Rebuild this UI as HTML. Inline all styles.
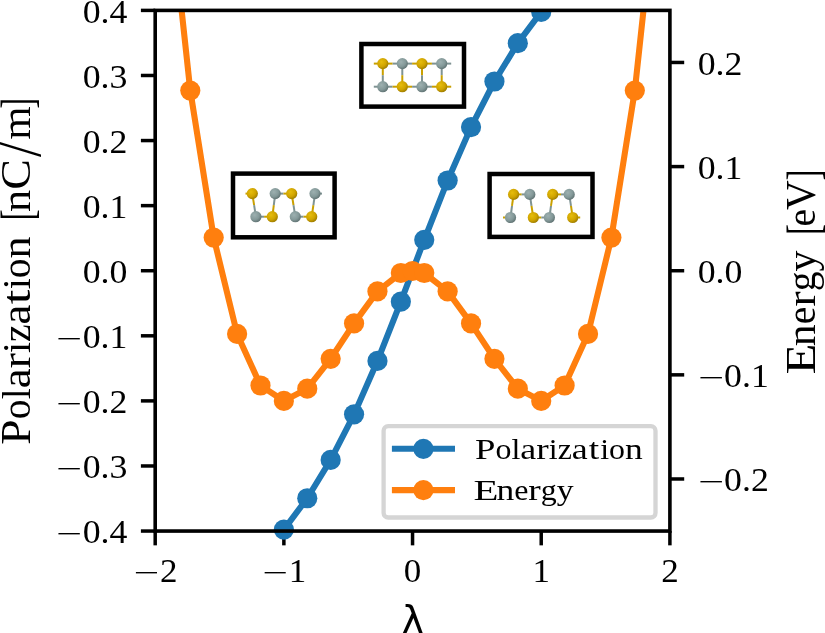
<!DOCTYPE html>
<html lang="en">
<head>
<meta charset="utf-8">
<title>Polarization and energy vs lambda</title>
<style>html,body{margin:0;padding:0;background:#fff;}body{width:825px;height:633px;overflow:hidden;}</style>
</head>
<body>
<svg width="825" height="633" viewBox="0 0 825 633" style="display:block;font-family:'Liberation Serif', 'DejaVu Serif', serif">
<rect x="0" y="0" width="825" height="633" fill="#ffffff"/>
<defs><clipPath id="axclip"><rect x="155.2" y="10.4" width="514.7" height="534.6"/></clipPath>
<radialGradient id="gAu" cx="0.38" cy="0.35" r="0.75"><stop offset="0" stop-color="#e6bd0c"/><stop offset="0.55" stop-color="#d0a400"/><stop offset="1" stop-color="#8f7100"/></radialGradient>
<radialGradient id="gSn" cx="0.38" cy="0.35" r="0.75"><stop offset="0" stop-color="#9db0b0"/><stop offset="0.55" stop-color="#849999"/><stop offset="1" stop-color="#566868"/></radialGradient>
</defs>
<g stroke="#000" stroke-width="3.5" stroke-linecap="butt">
<line x1="140.90" y1="10.40" x2="155.20" y2="10.40"/>
<line x1="140.90" y1="75.48" x2="155.20" y2="75.48"/>
<line x1="140.90" y1="140.56" x2="155.20" y2="140.56"/>
<line x1="140.90" y1="205.64" x2="155.20" y2="205.64"/>
<line x1="140.90" y1="270.72" x2="155.20" y2="270.72"/>
<line x1="140.90" y1="335.81" x2="155.20" y2="335.81"/>
<line x1="140.90" y1="400.89" x2="155.20" y2="400.89"/>
<line x1="140.90" y1="465.97" x2="155.20" y2="465.97"/>
<line x1="140.90" y1="531.05" x2="155.20" y2="531.05"/>
<line x1="669.90" y1="62.46" x2="684.20" y2="62.46"/>
<line x1="669.90" y1="166.59" x2="684.20" y2="166.59"/>
<line x1="669.90" y1="270.72" x2="684.20" y2="270.72"/>
<line x1="669.90" y1="374.85" x2="684.20" y2="374.85"/>
<line x1="669.90" y1="478.98" x2="684.20" y2="478.98"/>
<line x1="155.20" y1="531.05" x2="155.20" y2="545.35"/>
<line x1="283.87" y1="531.05" x2="283.87" y2="545.35"/>
<line x1="412.55" y1="531.05" x2="412.55" y2="545.35"/>
<line x1="541.22" y1="531.05" x2="541.22" y2="545.35"/>
<line x1="669.90" y1="531.05" x2="669.90" y2="545.35"/>
</g>
<g clip-path="url(#axclip)">
<polyline points="283.87,529.55 307.27,498.25 330.67,459.95 354.06,414.35 377.46,360.95 400.85,301.65 424.25,239.80 447.64,180.50 471.04,127.10 494.43,81.50 517.83,43.20 541.22,11.90" fill="none" stroke="#1f77b4" stroke-width="6.1" stroke-linejoin="round" stroke-linecap="butt"/>
<circle cx="283.87" cy="529.55" r="10.1" fill="#1f77b4"/>
<circle cx="307.27" cy="498.25" r="10.1" fill="#1f77b4"/>
<circle cx="330.67" cy="459.95" r="10.1" fill="#1f77b4"/>
<circle cx="354.06" cy="414.35" r="10.1" fill="#1f77b4"/>
<circle cx="377.46" cy="360.95" r="10.1" fill="#1f77b4"/>
<circle cx="400.85" cy="301.65" r="10.1" fill="#1f77b4"/>
<circle cx="424.25" cy="239.80" r="10.1" fill="#1f77b4"/>
<circle cx="447.64" cy="180.50" r="10.1" fill="#1f77b4"/>
<circle cx="471.04" cy="127.10" r="10.1" fill="#1f77b4"/>
<circle cx="494.43" cy="81.50" r="10.1" fill="#1f77b4"/>
<circle cx="517.83" cy="43.20" r="10.1" fill="#1f77b4"/>
<circle cx="541.22" cy="11.90" r="10.1" fill="#1f77b4"/>
</g>
<g clip-path="url(#axclip)">
<polyline points="166.90,-126.00 190.29,90.60 213.69,237.60 237.08,333.90 260.48,385.50 283.87,400.90 307.27,388.70 330.67,358.80 354.06,323.40 377.46,291.40 400.85,273.00 412.55,271.00 424.25,273.00 447.64,291.40 471.04,323.40 494.43,358.80 517.83,388.70 541.22,400.90 564.62,385.50 588.02,333.90 611.41,237.60 634.81,90.60 658.20,-126.00" fill="none" stroke="#ff7f0e" stroke-width="6.1" stroke-linejoin="round" stroke-linecap="butt"/>
<circle cx="190.29" cy="90.60" r="10.1" fill="#ff7f0e"/>
<circle cx="213.69" cy="237.60" r="10.1" fill="#ff7f0e"/>
<circle cx="237.08" cy="333.90" r="10.1" fill="#ff7f0e"/>
<circle cx="260.48" cy="385.50" r="10.1" fill="#ff7f0e"/>
<circle cx="283.87" cy="400.90" r="10.1" fill="#ff7f0e"/>
<circle cx="307.27" cy="388.70" r="10.1" fill="#ff7f0e"/>
<circle cx="330.67" cy="358.80" r="10.1" fill="#ff7f0e"/>
<circle cx="354.06" cy="323.40" r="10.1" fill="#ff7f0e"/>
<circle cx="377.46" cy="291.40" r="10.1" fill="#ff7f0e"/>
<circle cx="400.85" cy="273.00" r="10.1" fill="#ff7f0e"/>
<circle cx="412.55" cy="271.00" r="10.1" fill="#ff7f0e"/>
<circle cx="424.25" cy="273.00" r="10.1" fill="#ff7f0e"/>
<circle cx="447.64" cy="291.40" r="10.1" fill="#ff7f0e"/>
<circle cx="471.04" cy="323.40" r="10.1" fill="#ff7f0e"/>
<circle cx="494.43" cy="358.80" r="10.1" fill="#ff7f0e"/>
<circle cx="517.83" cy="388.70" r="10.1" fill="#ff7f0e"/>
<circle cx="541.22" cy="400.90" r="10.1" fill="#ff7f0e"/>
<circle cx="564.62" cy="385.50" r="10.1" fill="#ff7f0e"/>
<circle cx="588.02" cy="333.90" r="10.1" fill="#ff7f0e"/>
<circle cx="611.41" cy="237.60" r="10.1" fill="#ff7f0e"/>
<circle cx="634.81" cy="90.60" r="10.1" fill="#ff7f0e"/>
</g>
<rect x="155.2" y="10.4" width="514.70" height="520.65" fill="none" stroke="#000" stroke-width="3.6" stroke-linejoin="miter"/>
<rect x="361.4" y="44.0" width="102.60" height="62.60" fill="#fff" stroke="#000" stroke-width="4.5"/>
<line x1="382.8" y1="63.6" x2="373.8" y2="63.6" stroke="#c9a000" stroke-width="2"/>
<line x1="382.8" y1="86.7" x2="373.8" y2="86.7" stroke="#7f9393" stroke-width="2"/>
<line x1="441.7" y1="63.6" x2="451.2" y2="63.6" stroke="#7f9393" stroke-width="2"/>
<line x1="441.7" y1="86.7" x2="451.2" y2="86.7" stroke="#c9a000" stroke-width="2"/>
<line x1="382.8" y1="63.6" x2="392.6" y2="63.6" stroke="#c9a000" stroke-width="2"/>
<line x1="392.6" y1="63.6" x2="402.3" y2="63.6" stroke="#7f9393" stroke-width="2"/>
<line x1="382.8" y1="86.7" x2="392.6" y2="86.7" stroke="#7f9393" stroke-width="2"/>
<line x1="392.6" y1="86.7" x2="402.3" y2="86.7" stroke="#c9a000" stroke-width="2"/>
<line x1="402.3" y1="63.6" x2="412.1" y2="63.6" stroke="#7f9393" stroke-width="2"/>
<line x1="412.1" y1="63.6" x2="422.0" y2="63.6" stroke="#c9a000" stroke-width="2"/>
<line x1="402.3" y1="86.7" x2="412.1" y2="86.7" stroke="#c9a000" stroke-width="2"/>
<line x1="412.1" y1="86.7" x2="422.0" y2="86.7" stroke="#7f9393" stroke-width="2"/>
<line x1="422.0" y1="63.6" x2="431.9" y2="63.6" stroke="#c9a000" stroke-width="2"/>
<line x1="431.9" y1="63.6" x2="441.7" y2="63.6" stroke="#7f9393" stroke-width="2"/>
<line x1="422.0" y1="86.7" x2="431.9" y2="86.7" stroke="#7f9393" stroke-width="2"/>
<line x1="431.9" y1="86.7" x2="441.7" y2="86.7" stroke="#c9a000" stroke-width="2"/>
<line x1="382.8" y1="63.6" x2="382.8" y2="75.2" stroke="#c9a000" stroke-width="2"/>
<line x1="382.8" y1="75.2" x2="382.8" y2="86.7" stroke="#7f9393" stroke-width="2"/>
<line x1="402.3" y1="63.6" x2="402.3" y2="75.2" stroke="#7f9393" stroke-width="2"/>
<line x1="402.3" y1="75.2" x2="402.3" y2="86.7" stroke="#c9a000" stroke-width="2"/>
<line x1="422.0" y1="63.6" x2="422.0" y2="75.2" stroke="#c9a000" stroke-width="2"/>
<line x1="422.0" y1="75.2" x2="422.0" y2="86.7" stroke="#7f9393" stroke-width="2"/>
<line x1="441.7" y1="63.6" x2="441.7" y2="75.2" stroke="#7f9393" stroke-width="2"/>
<line x1="441.7" y1="75.2" x2="441.7" y2="86.7" stroke="#c9a000" stroke-width="2"/>
<circle cx="382.8" cy="63.6" r="5.6" fill="url(#gAu)"/>
<circle cx="402.3" cy="63.6" r="5.6" fill="url(#gSn)"/>
<circle cx="422.0" cy="63.6" r="5.6" fill="url(#gAu)"/>
<circle cx="441.7" cy="63.6" r="5.6" fill="url(#gSn)"/>
<circle cx="382.8" cy="86.7" r="5.6" fill="url(#gSn)"/>
<circle cx="402.3" cy="86.7" r="5.6" fill="url(#gAu)"/>
<circle cx="422.0" cy="86.7" r="5.6" fill="url(#gSn)"/>
<circle cx="441.7" cy="86.7" r="5.6" fill="url(#gAu)"/>
<rect x="233.0" y="173.6" width="101.60" height="63.70" fill="#fff" stroke="#000" stroke-width="4.5"/>
<line x1="252.3" y1="193.6" x2="245.5" y2="193.6" stroke="#c9a000" stroke-width="2"/>
<line x1="315.0" y1="193.6" x2="322.0" y2="193.6" stroke="#7f9393" stroke-width="2"/>
<line x1="252.3" y1="193.6" x2="254.1" y2="205.1" stroke="#c9a000" stroke-width="2"/>
<line x1="254.1" y1="205.1" x2="255.9" y2="216.7" stroke="#7f9393" stroke-width="2"/>
<line x1="255.9" y1="216.7" x2="264.1" y2="216.7" stroke="#7f9393" stroke-width="2"/>
<line x1="264.1" y1="216.7" x2="272.3" y2="216.7" stroke="#c9a000" stroke-width="2"/>
<line x1="272.3" y1="216.7" x2="273.8" y2="205.1" stroke="#c9a000" stroke-width="2"/>
<line x1="273.8" y1="205.1" x2="275.2" y2="193.6" stroke="#7f9393" stroke-width="2"/>
<line x1="275.2" y1="193.6" x2="283.4" y2="193.6" stroke="#7f9393" stroke-width="2"/>
<line x1="283.4" y1="193.6" x2="291.7" y2="193.6" stroke="#c9a000" stroke-width="2"/>
<line x1="291.7" y1="193.6" x2="293.5" y2="205.1" stroke="#c9a000" stroke-width="2"/>
<line x1="293.5" y1="205.1" x2="295.3" y2="216.7" stroke="#7f9393" stroke-width="2"/>
<line x1="295.3" y1="216.7" x2="303.5" y2="216.7" stroke="#7f9393" stroke-width="2"/>
<line x1="303.5" y1="216.7" x2="311.7" y2="216.7" stroke="#c9a000" stroke-width="2"/>
<line x1="311.7" y1="216.7" x2="313.4" y2="205.1" stroke="#c9a000" stroke-width="2"/>
<line x1="313.4" y1="205.1" x2="315.0" y2="193.6" stroke="#7f9393" stroke-width="2"/>
<circle cx="252.3" cy="193.6" r="5.6" fill="url(#gAu)"/>
<circle cx="275.2" cy="193.6" r="5.6" fill="url(#gSn)"/>
<circle cx="291.7" cy="193.6" r="5.6" fill="url(#gAu)"/>
<circle cx="315.0" cy="193.6" r="5.6" fill="url(#gSn)"/>
<circle cx="255.9" cy="216.7" r="5.6" fill="url(#gSn)"/>
<circle cx="272.3" cy="216.7" r="5.6" fill="url(#gAu)"/>
<circle cx="295.3" cy="216.7" r="5.6" fill="url(#gSn)"/>
<circle cx="311.7" cy="216.7" r="5.6" fill="url(#gAu)"/>
<rect x="489.6" y="174.0" width="102.90" height="62.90" fill="#fff" stroke="#000" stroke-width="4.5"/>
<line x1="510.5" y1="217.5" x2="503.0" y2="217.5" stroke="#c9a000" stroke-width="2"/>
<line x1="572.7" y1="217.5" x2="580.2" y2="217.5" stroke="#c9a000" stroke-width="2"/>
<line x1="510.5" y1="217.5" x2="512.0" y2="205.9" stroke="#7f9393" stroke-width="2"/>
<line x1="512.0" y1="205.9" x2="513.6" y2="194.4" stroke="#c9a000" stroke-width="2"/>
<line x1="513.6" y1="194.4" x2="521.7" y2="194.4" stroke="#c9a000" stroke-width="2"/>
<line x1="521.7" y1="194.4" x2="529.8" y2="194.4" stroke="#7f9393" stroke-width="2"/>
<line x1="529.8" y1="194.4" x2="531.5" y2="205.9" stroke="#7f9393" stroke-width="2"/>
<line x1="531.5" y1="205.9" x2="533.3" y2="217.5" stroke="#c9a000" stroke-width="2"/>
<line x1="533.3" y1="217.5" x2="541.3" y2="217.5" stroke="#c9a000" stroke-width="2"/>
<line x1="541.3" y1="217.5" x2="549.4" y2="217.5" stroke="#7f9393" stroke-width="2"/>
<line x1="549.4" y1="217.5" x2="551.0" y2="205.9" stroke="#7f9393" stroke-width="2"/>
<line x1="551.0" y1="205.9" x2="552.7" y2="194.4" stroke="#c9a000" stroke-width="2"/>
<line x1="552.7" y1="194.4" x2="561.0" y2="194.4" stroke="#c9a000" stroke-width="2"/>
<line x1="561.0" y1="194.4" x2="569.2" y2="194.4" stroke="#7f9393" stroke-width="2"/>
<line x1="569.2" y1="194.4" x2="571.0" y2="205.9" stroke="#7f9393" stroke-width="2"/>
<line x1="571.0" y1="205.9" x2="572.7" y2="217.5" stroke="#c9a000" stroke-width="2"/>
<circle cx="513.6" cy="194.4" r="5.6" fill="url(#gAu)"/>
<circle cx="529.8" cy="194.4" r="5.6" fill="url(#gSn)"/>
<circle cx="552.7" cy="194.4" r="5.6" fill="url(#gAu)"/>
<circle cx="569.2" cy="194.4" r="5.6" fill="url(#gSn)"/>
<circle cx="510.5" cy="217.5" r="5.6" fill="url(#gSn)"/>
<circle cx="533.3" cy="217.5" r="5.6" fill="url(#gAu)"/>
<circle cx="549.4" cy="217.5" r="5.6" fill="url(#gSn)"/>
<circle cx="572.7" cy="217.5" r="5.6" fill="url(#gAu)"/>
<rect x="383.6" y="426.1" width="271.9" height="91.4" rx="4.6" ry="4.6" fill="#fff" fill-opacity="0.8" stroke="#d5d5d5" stroke-width="4.3"/>
<line x1="391.9" y1="448.8" x2="455.0" y2="448.8" stroke="#1f77b4" stroke-width="6.1"/>
<circle cx="423.4" cy="448.8" r="10.1" fill="#1f77b4"/>
<line x1="391.9" y1="490.1" x2="455.0" y2="490.1" stroke="#ff7f0e" stroke-width="6.1"/>
<circle cx="423.4" cy="490.1" r="10.1" fill="#ff7f0e"/>
<g fill="#000">
<text y="22.70" font-size="33.0"><tspan x="82.70" textLength="44.70" lengthAdjust="spacingAndGlyphs">0.4</tspan></text>
<text y="87.78" font-size="33.0"><tspan x="82.70" textLength="44.70" lengthAdjust="spacingAndGlyphs">0.3</tspan></text>
<text y="152.86" font-size="33.0"><tspan x="82.70" textLength="44.70" lengthAdjust="spacingAndGlyphs">0.2</tspan></text>
<text y="217.94" font-size="33.0"><tspan x="82.70" textLength="44.70" lengthAdjust="spacingAndGlyphs">0.1</tspan></text>
<text y="283.02" font-size="33.0"><tspan x="82.70" textLength="44.70" lengthAdjust="spacingAndGlyphs">0.0</tspan></text>
<text y="348.11" font-size="33.0"><tspan x="56.61" dy="0.0" font-size="28.0" textLength="25.94" lengthAdjust="spacingAndGlyphs">−</tspan><tspan x="82.70" dy="-0.0" textLength="44.70" lengthAdjust="spacingAndGlyphs">0.1</tspan></text>
<text y="413.19" font-size="33.0"><tspan x="56.61" dy="0.0" font-size="28.0" textLength="25.94" lengthAdjust="spacingAndGlyphs">−</tspan><tspan x="82.70" dy="-0.0" textLength="44.70" lengthAdjust="spacingAndGlyphs">0.2</tspan></text>
<text y="478.27" font-size="33.0"><tspan x="56.61" dy="0.0" font-size="28.0" textLength="25.94" lengthAdjust="spacingAndGlyphs">−</tspan><tspan x="82.70" dy="-0.0" textLength="44.70" lengthAdjust="spacingAndGlyphs">0.3</tspan></text>
<text y="543.35" font-size="33.0"><tspan x="56.61" dy="0.0" font-size="28.0" textLength="25.94" lengthAdjust="spacingAndGlyphs">−</tspan><tspan x="82.70" dy="-0.0" textLength="44.70" lengthAdjust="spacingAndGlyphs">0.4</tspan></text>
<text y="74.76" font-size="33.0"><tspan x="697.70" textLength="44.70" lengthAdjust="spacingAndGlyphs">0.2</tspan></text>
<text y="178.89" font-size="33.0"><tspan x="697.70" textLength="44.70" lengthAdjust="spacingAndGlyphs">0.1</tspan></text>
<text y="283.02" font-size="33.0"><tspan x="697.70" textLength="44.70" lengthAdjust="spacingAndGlyphs">0.0</tspan></text>
<text y="387.15" font-size="33.0"><tspan x="698.50" dy="0.0" font-size="28.0" textLength="26.06" lengthAdjust="spacingAndGlyphs">−</tspan><tspan x="724.10" dy="-0.0" textLength="44.70" lengthAdjust="spacingAndGlyphs">0.1</tspan></text>
<text y="491.28" font-size="33.0"><tspan x="698.50" dy="0.0" font-size="28.0" textLength="26.06" lengthAdjust="spacingAndGlyphs">−</tspan><tspan x="724.10" dy="-0.0" textLength="44.70" lengthAdjust="spacingAndGlyphs">0.2</tspan></text>
<text y="582.30" font-size="33.0"><tspan x="134.04" dy="0.0" font-size="28.0" textLength="25.57" lengthAdjust="spacingAndGlyphs">−</tspan><tspan x="160.00" dy="-0.0" textLength="17.50" lengthAdjust="spacingAndGlyphs">2</tspan></text>
<text y="582.30" font-size="33.0"><tspan x="262.72" dy="0.0" font-size="28.0" textLength="25.57" lengthAdjust="spacingAndGlyphs">−</tspan><tspan x="288.67" dy="-0.0" textLength="17.50" lengthAdjust="spacingAndGlyphs">1</tspan></text>
<text y="582.30" font-size="33.0"><tspan x="403.80" textLength="17.50" lengthAdjust="spacingAndGlyphs">0</tspan></text>
<text y="582.30" font-size="33.0"><tspan x="532.47" textLength="17.50" lengthAdjust="spacingAndGlyphs">1</tspan></text>
<text y="582.30" font-size="33.0"><tspan x="661.15" textLength="17.50" lengthAdjust="spacingAndGlyphs">2</tspan></text>
<text transform="translate(474.75,459.0)" font-size="28.4" style="font-kerning:none"><tspan x="0.17" y="0.00" font-size="29.96" textLength="20.41" lengthAdjust="spacingAndGlyphs">P</tspan><tspan x="20.82" y="0.00" textLength="15.95" lengthAdjust="spacingAndGlyphs">o</tspan><tspan x="36.77" y="0.00" textLength="8.86" lengthAdjust="spacingAndGlyphs">l</tspan><tspan x="45.64" y="0.00" textLength="15.95" lengthAdjust="spacingAndGlyphs">a</tspan><tspan x="61.59" y="0.00" textLength="12.48" lengthAdjust="spacingAndGlyphs">r</tspan><tspan x="74.08" y="0.00" textLength="8.86" lengthAdjust="spacingAndGlyphs">i</tspan><tspan x="82.94" y="0.00" textLength="14.18" lengthAdjust="spacingAndGlyphs">z</tspan><tspan x="97.12" y="0.00" textLength="15.95" lengthAdjust="spacingAndGlyphs">a</tspan><tspan x="114.06" y="0.00" textLength="10.42" lengthAdjust="spacingAndGlyphs">t</tspan><tspan x="125.48" y="0.00" textLength="8.86" lengthAdjust="spacingAndGlyphs">i</tspan><tspan x="134.34" y="0.00" textLength="15.95" lengthAdjust="spacingAndGlyphs">o</tspan><tspan x="150.29" y="0.00" textLength="17.72" lengthAdjust="spacingAndGlyphs">n</tspan></text>
<text transform="translate(474.75,500.3)" font-size="28.4" style="font-kerning:none"><tspan x="-1.15" y="0.00" font-size="29.96" textLength="24.97" lengthAdjust="spacingAndGlyphs">E</tspan><tspan x="21.71" y="0.00" textLength="17.72" lengthAdjust="spacingAndGlyphs">n</tspan><tspan x="39.43" y="0.00" textLength="14.18" lengthAdjust="spacingAndGlyphs">e</tspan><tspan x="53.62" y="0.00" textLength="12.48" lengthAdjust="spacingAndGlyphs">r</tspan><tspan x="66.11" y="0.00" textLength="15.95" lengthAdjust="spacingAndGlyphs">g</tspan><tspan x="82.06" y="0.00" textLength="16.84" lengthAdjust="spacingAndGlyphs">y</tspan></text>
<text transform="translate(30.0,445.0) rotate(-90)" font-size="39.8" style="font-kerning:none"><tspan x="0.21" y="0.00" font-size="41.99" textLength="25.33" lengthAdjust="spacingAndGlyphs">P</tspan><tspan x="25.85" y="0.00" textLength="19.80" lengthAdjust="spacingAndGlyphs">o</tspan><tspan x="45.65" y="0.00" textLength="11.00" lengthAdjust="spacingAndGlyphs">l</tspan><tspan x="56.65" y="0.00" textLength="19.80" lengthAdjust="spacingAndGlyphs">a</tspan><tspan x="76.45" y="0.00" textLength="15.51" lengthAdjust="spacingAndGlyphs">r</tspan><tspan x="91.96" y="0.00" textLength="11.00" lengthAdjust="spacingAndGlyphs">i</tspan><tspan x="102.96" y="0.00" textLength="17.60" lengthAdjust="spacingAndGlyphs">z</tspan><tspan x="120.56" y="0.00" textLength="19.80" lengthAdjust="spacingAndGlyphs">a</tspan><tspan x="140.76" y="0.00" textLength="14.60" lengthAdjust="spacingAndGlyphs">t</tspan><tspan x="155.76" y="0.00" textLength="11.00" lengthAdjust="spacingAndGlyphs">i</tspan><tspan x="166.76" y="0.00" textLength="19.80" lengthAdjust="spacingAndGlyphs">o</tspan><tspan x="186.56" y="0.00" textLength="22.00" lengthAdjust="spacingAndGlyphs">n</tspan><tspan x="208.57" y="0"> </tspan><tspan x="224.40" y="3.28" font-size="46.57" textLength="11.11" lengthAdjust="spacingAndGlyphs">[</tspan><tspan x="233.01" y="0.00" textLength="22.22" lengthAdjust="spacingAndGlyphs">n</tspan><tspan x="255.17" y="0.00" font-size="41.99" textLength="30.62" lengthAdjust="spacingAndGlyphs">C</tspan><tspan x="287.14" y="5.67" font-size="49.15" font-family="'DejaVu Sans', 'Liberation Sans', sans-serif" font-weight="200" textLength="16.56" lengthAdjust="spacingAndGlyphs">/</tspan><tspan x="305.32" y="0.00" textLength="33.33" lengthAdjust="spacingAndGlyphs">m</tspan><tspan x="336.25" y="3.28" font-size="46.57" textLength="11.11" lengthAdjust="spacingAndGlyphs">]</tspan></text>
<text transform="translate(815.3,373.1) rotate(-90)" font-size="39.8" style="font-kerning:none"><tspan x="-1.42" y="0.00" font-size="41.99" textLength="30.92" lengthAdjust="spacingAndGlyphs">E</tspan><tspan x="26.88" y="0.00" textLength="21.95" lengthAdjust="spacingAndGlyphs">n</tspan><tspan x="48.83" y="0.00" textLength="17.55" lengthAdjust="spacingAndGlyphs">e</tspan><tspan x="66.38" y="0.00" textLength="15.47" lengthAdjust="spacingAndGlyphs">r</tspan><tspan x="81.86" y="0.00" textLength="19.75" lengthAdjust="spacingAndGlyphs">g</tspan><tspan x="101.61" y="0.00" textLength="20.85" lengthAdjust="spacingAndGlyphs">y</tspan><tspan x="122.45" y="0"> </tspan><tspan x="138.09" y="3.28" font-size="46.57" textLength="10.97" lengthAdjust="spacingAndGlyphs">[</tspan><tspan x="146.59" y="0.00" textLength="17.55" lengthAdjust="spacingAndGlyphs">e</tspan><tspan x="163.16" y="0.00" font-size="41.99" textLength="29.62" lengthAdjust="spacingAndGlyphs">V</tspan><tspan x="192.59" y="3.28" font-size="46.57" textLength="10.97" lengthAdjust="spacingAndGlyphs">]</tspan></text>
<text x="401.3" y="633.6" font-size="38.8" font-family="'DejaVu Sans', 'Liberation Sans', sans-serif">λ</text>
</g>
</svg>
</body>
</html>
